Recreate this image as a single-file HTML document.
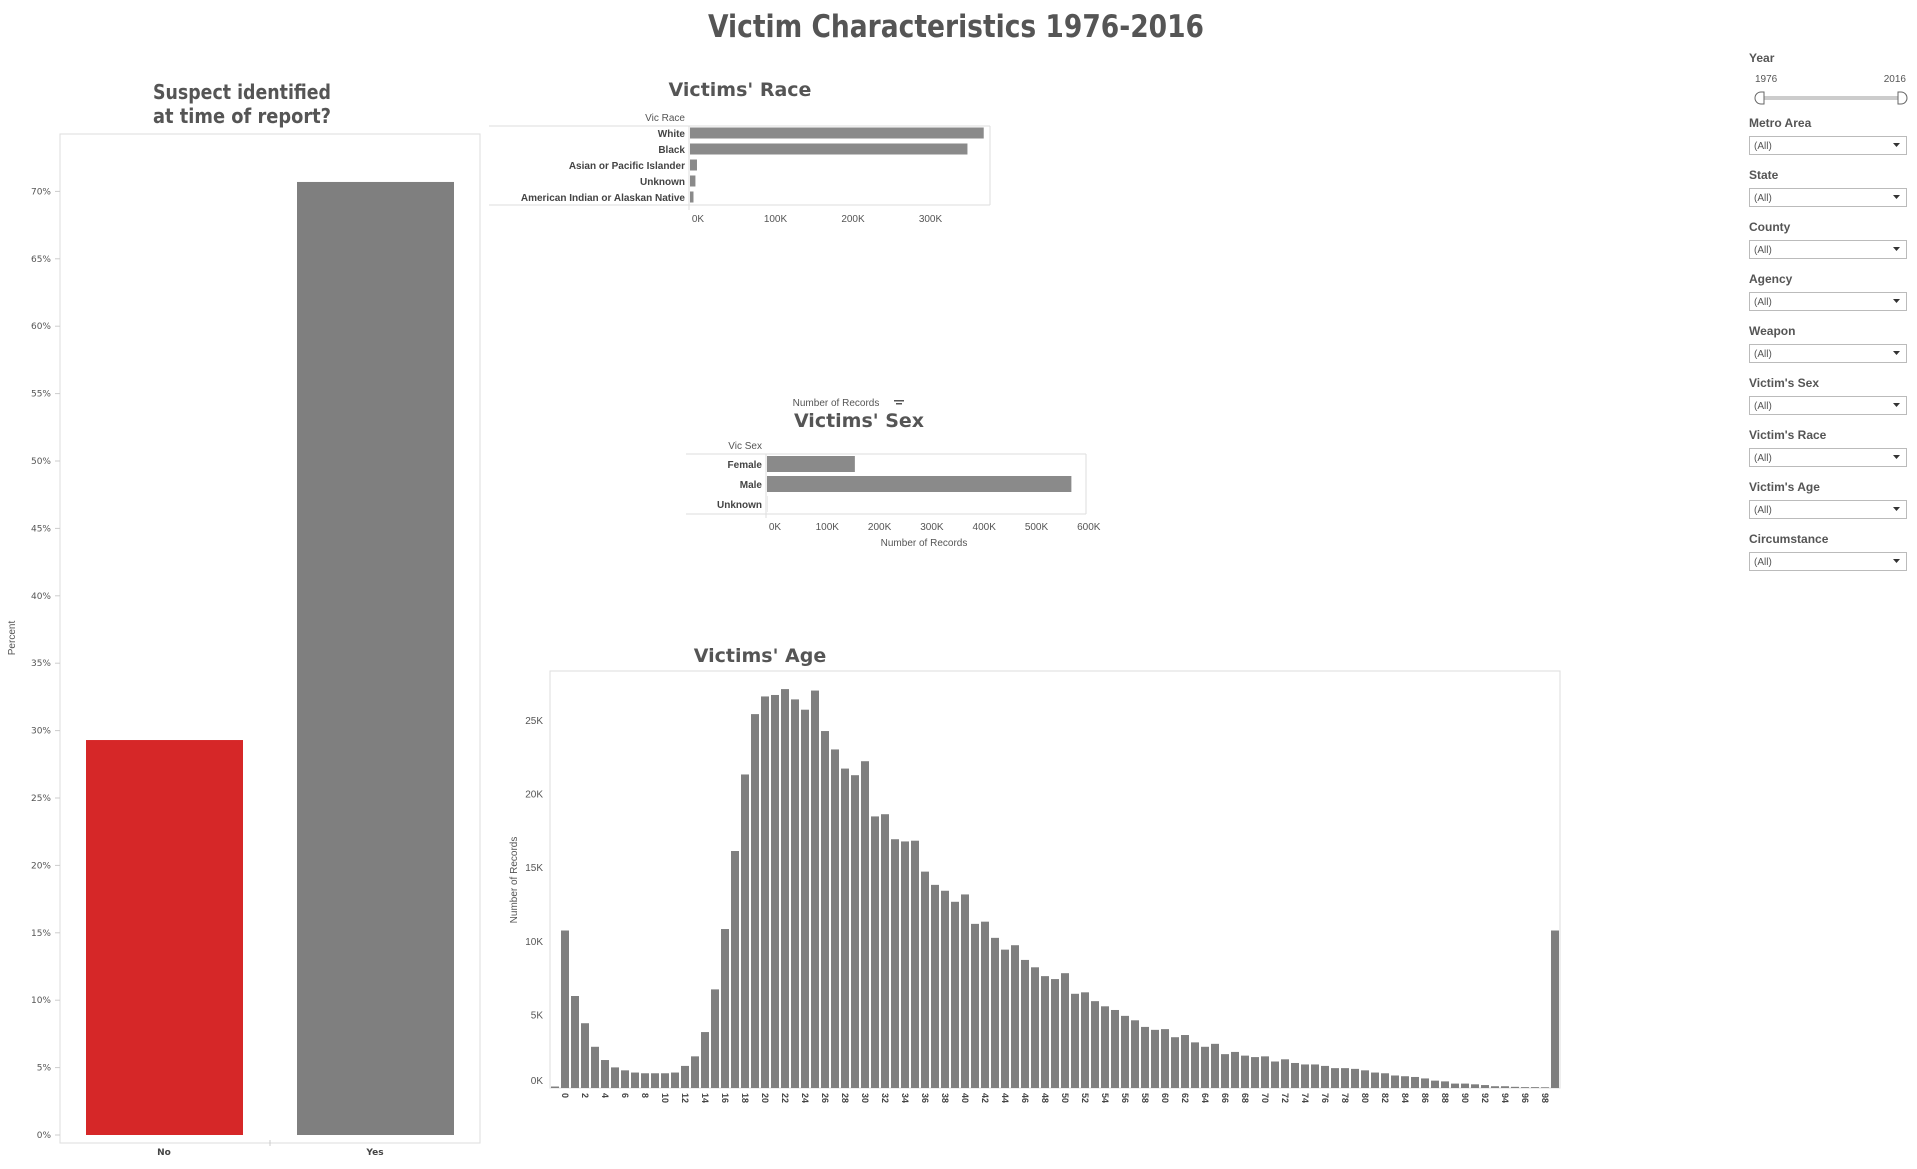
<!DOCTYPE html>
<html><head><meta charset="utf-8"><style>
html,body{margin:0;padding:0;background:#fff;}
svg{display:block;font-family:"Liberation Sans",sans-serif;}
</style></head><body>
<svg id="root" width="1917" height="1169" viewBox="0 0 1917 1169" xmlns="http://www.w3.org/2000/svg">
<text x="956" y="37" text-anchor="middle" font-size="31" font-weight="bold" fill="#555" textLength="496" lengthAdjust="spacingAndGlyphs" font-family="DejaVu Sans, sans-serif">Victim Characteristics 1976-2016</text>

<g id="suspect">
<text x="242" y="99" text-anchor="middle" font-size="20" font-weight="bold" fill="#555" font-family="DejaVu Sans, sans-serif" textLength="178" lengthAdjust="spacingAndGlyphs">Suspect identified</text>
<text x="242" y="123" text-anchor="middle" font-size="20" font-weight="bold" fill="#555" font-family="DejaVu Sans, sans-serif" textLength="178" lengthAdjust="spacingAndGlyphs">at time of report?</text>
<rect x="60" y="134" width="420" height="1009" fill="none" stroke="#ddd"/>
<text transform="translate(15,638) rotate(-90)" text-anchor="middle" font-size="10" fill="#555">Percent</text>
</g>

<g id="race">
<text x="740" y="96" text-anchor="middle" font-size="19" font-weight="bold" fill="#555" font-family="DejaVu Sans, sans-serif">Victims' Race</text>
<text x="685" y="121" text-anchor="end" font-size="10" fill="#555">Vic Race</text>
<line x1="489" y1="126" x2="990" y2="126" stroke="#ddd"/>
<line x1="489" y1="205" x2="990" y2="205" stroke="#ddd"/>
<line x1="990" y1="126" x2="990" y2="205" stroke="#ddd"/>
<line x1="689" y1="126" x2="689" y2="210" stroke="#ddd"/>
<text x="836" y="406" text-anchor="middle" font-size="10" fill="#555">Number of Records</text>
<rect x="894" y="400" width="10" height="1.5" fill="#555"/>
<rect x="896" y="403" width="6" height="1.5" fill="#555"/>
</g>

<g id="sex">
<text x="859" y="427" text-anchor="middle" font-size="19" font-weight="bold" fill="#555" font-family="DejaVu Sans, sans-serif">Victims' Sex</text>
<text x="762" y="449" text-anchor="end" font-size="10" fill="#555">Vic Sex</text>
<line x1="686" y1="454" x2="1086" y2="454" stroke="#ddd"/>
<line x1="686" y1="514" x2="1086" y2="514" stroke="#ddd"/>
<line x1="1086" y1="454" x2="1086" y2="514" stroke="#ddd"/>
<line x1="766" y1="454" x2="766" y2="518" stroke="#ddd"/>
<text x="924" y="546" text-anchor="middle" font-size="10" fill="#555">Number of Records</text>
</g>

<g id="age">
<text x="760" y="662" text-anchor="middle" font-size="19" font-weight="bold" fill="#555" font-family="DejaVu Sans, sans-serif">Victims' Age</text>
<rect x="550" y="671" width="1010" height="417" fill="none" stroke="#ddd"/>
<text transform="translate(517,880) rotate(-90)" text-anchor="middle" font-size="10" fill="#555">Number of Records</text>
</g>

<g id="filters">
<text x="1749" y="62" font-size="12" font-weight="bold" fill="#555">Year</text>
<text x="1755" y="82" font-size="10" fill="#555">1976</text>
<text x="1906" y="82" text-anchor="end" font-size="10" fill="#555">2016</text>
<rect x="1760" y="96" width="140" height="4" fill="#ccc"/>
<path d="M1764,92 h-3 a6,6 0 0 0 0,12 h3 z" fill="#fff" stroke="#666"/>
<path d="M1898,92 h3 a6,6 0 0 1 0,12 h-3 z" fill="#fff" stroke="#666"/>
</g>
</svg>
<script>
const NS="http://www.w3.org/2000/svg";
const suspectCats=["No","Yes"];
const suspectVals=[29.3,70.7];
const suspectTicks=[0,5,10,15,20,25,30,35,40,45,50,55,60,65,70];
const raceCats=["White","Black","Asian or Pacific Islander","Unknown","American Indian or Alaskan Native"];
const raceVals=[379,358,9,7,4.5];
const raceTicks=[0,100,200,300];
const sexCats=["Female","Male","Unknown"];
const sexVals=[168,582,0.3];
const sexTicks=[0,100,200,300,400,500,600];
const ageCats=[""].concat(Array.from({length:100},(_,i)=>String(i)));
const ageVals=[0.1,10.7,6.25,4.4,2.8,1.9,1.4,1.2,1.05,1.0,1.0,1.0,1.05,1.5,2.15,3.8,6.7,10.8,16.1,21.3,25.4,26.6,26.7,27.1,26.4,25.7,27.0,24.25,23.0,21.7,21.25,22.2,18.45,18.6,16.9,16.75,16.8,14.7,13.8,13.4,12.65,13.15,11.15,11.3,10.2,9.4,9.7,8.7,8.2,7.6,7.4,7.8,6.4,6.5,5.9,5.55,5.3,4.9,4.6,4.15,3.95,4.0,3.45,3.6,3.1,2.8,3.0,2.3,2.45,2.2,2.1,2.15,1.8,1.95,1.7,1.6,1.6,1.5,1.35,1.35,1.3,1.2,1.05,1.0,0.85,0.8,0.75,0.65,0.5,0.45,0.3,0.3,0.25,0.2,0.12,0.12,0.08,0.06,0.06,0.05,10.7];
const ageTicks=[0,5,10,15,20,25];
const filterNames=["Metro Area","State","County","Agency","Weapon","Victim's Sex","Victim's Race","Victim's Age","Circumstance"];

function mk(parent,tag,attrs,txt){const e=document.createElementNS(NS,tag);for(const k in attrs)e.setAttribute(k,attrs[k]);if(txt!==undefined)e.textContent=txt;parent.appendChild(e);return e;}

// suspect chart
(function(){
  const g=document.getElementById('suspect');
  const y=v=>1135-v*13.48;
  suspectTicks.forEach(t=>{
    const tx=mk(g,'text',{x:51,y:y(t)+3,'text-anchor':'end','font-size':9,fill:'#555','font-family':'DejaVu Sans, sans-serif'},t+'%');
    
    
    mk(g,'line',{x1:55,x2:60,y1:y(t),y2:y(t),stroke:'#ccc'});
  });
  const xs=[86,297];
  suspectCats.forEach((c,i)=>{
    const r=mk(g,'rect',{x:xs[i],y:y(suspectVals[i]),width:157,height:1135-y(suspectVals[i]),fill:i===0?'#d62728':'#7f7f7f'});
    
    
    const t=mk(g,'text',{x:xs[i]+78,y:1155,'text-anchor':'middle','font-size':9,'font-weight':'bold',fill:'#444','font-family':'DejaVu Sans, sans-serif'},c);
    
    
  });
  mk(g,'line',{x1:270,x2:270,y1:1140,y2:1146,stroke:'#ccc'});
})();

// race chart
(function(){
  const g=document.getElementById('race');
  const x=v=>690+v*0.775;
  raceCats.forEach((c,i)=>{
    const cy=133+i*16;
    const r=mk(g,'rect',{x:690,y:cy-5.5,width:x(raceVals[i])-690,height:11,fill:'#8a8a8a'});
    
    
    const t=mk(g,'text',{x:685,y:cy+4,'text-anchor':'end','font-size':10,'font-weight':'bold',fill:'#444'},c);
    
    
  });
  raceTicks.forEach(t=>{
    const l=mk(g,'text',{x:x(t)+8,y:222,'text-anchor':'middle','font-size':10,fill:'#555'},t+'K');
    
    
  });
})();

// sex chart
(function(){
  const g=document.getElementById('sex');
  const x=v=>767+v*0.523;
  sexCats.forEach((c,i)=>{
    const cy=464+i*20;
    const r=mk(g,'rect',{x:767,y:cy-8,width:x(sexVals[i])-767,height:16,fill:'#8a8a8a'});
    
    
    const t=mk(g,'text',{x:762,y:cy+4,'text-anchor':'end','font-size':10,'font-weight':'bold',fill:'#444'},c);
    
    
  });
  sexTicks.forEach(t=>{
    const l=mk(g,'text',{x:x(t)+8,y:530,'text-anchor':'middle','font-size':10,fill:'#555'},t+'K');
    
    
  });
})();

// age chart
(function(){
  const g=document.getElementById('age');
  const y=v=>1088-v*14.72;
  ageTicks.forEach(t=>{
    const l=mk(g,'text',{x:543,y:Math.min(y(t)+4,1084),'text-anchor':'end','font-size':10,fill:'#555'},t+'K');
    
    
  });
  ageCats.forEach((c,i)=>{
    const bx=551+i*10;
    const r=mk(g,'rect',{x:bx,y:y(ageVals[i]),width:8,height:1088-y(ageVals[i]),fill:'#7f7f7f'});
    
    
    if(c!==''&&Number(c)%2===0){
      const t=mk(g,'text',{transform:'translate('+(bx+1)+',1093) rotate(90)','font-size':9,'font-weight':'bold',fill:'#444'},c);
      
      
    }
  });
})();

// filters
(function(){
  const g=document.getElementById('filters');
  filterNames.forEach((n,i)=>{
    const ly=127+i*52;
    const l=mk(g,'text',{x:1749,y:ly,'font-size':12,'font-weight':'bold',fill:'#555'},n);
    
    
    const d=mk(g,'rect',{x:1749.5,y:ly+9.5,width:157,height:18,fill:'#fff',stroke:'#bbb'});
    
    
    mk(g,'text',{x:1754,y:ly+22,'font-size':10,fill:'#555'},'(All)');
    mk(g,'path',{d:'M1893,'+(ly+16)+' h7 l-3.5,4 z',fill:'#333'});
  });
})();
</script>
</body></html>
